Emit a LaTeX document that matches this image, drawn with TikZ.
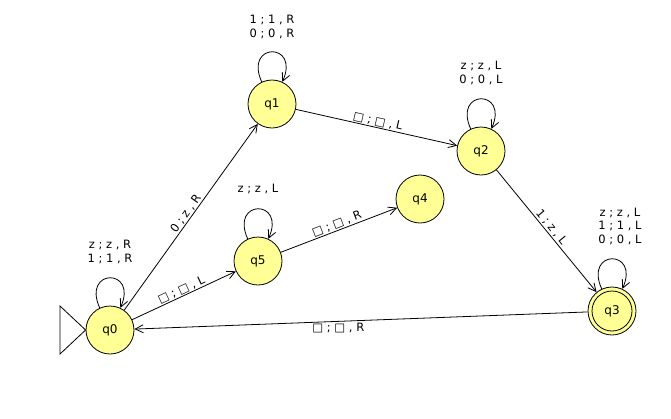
\documentclass[tikz,border=0pt]{standalone}
\usepackage{fontspec}
\setmainfont{DejaVu Sans}
\usetikzlibrary{arrows.meta}
\definecolor{st}{RGB}{255,255,150}
\begin{document}
\begin{tikzpicture}[x=1pt,y=-1pt,line width=0.8pt,
  stnode/.style={circle,draw,fill=st,minimum size=48pt,inner sep=0pt,font=\fontsize{12}{12}\selectfont},
  lbl/.style={font=\fontsize{11.5}{13.5}\selectfont,align=center,inner sep=1pt},
  tr/.style={-{Straight Barb[length=8pt,width=8pt]},draw=black}]
\useasboundingbox (0,0) rectangle (671,418);
\node[stnode] (q0) at (110,330) {q0};
\node[stnode] (q1) at (272,104) {q1};
\node[stnode] (q2) at (481,151) {q2};
\node[stnode] (q3) at (612,311) {};
\node[circle,draw,minimum size=40pt,inner sep=0pt,font=\fontsize{12}{12}\selectfont] (q3i) at (q3) {q3};
\node[stnode] (q4) at (420,199) {q4};
\node[stnode] (q5) at (258,261) {q5};
\coordinate (t1) at (60,306);
\coordinate (t2) at (60,354);
\draw (q0.west) -- (t1) -- (t2) -- cycle;
% loops
\foreach \n in {q0,q1,q2,q3,q5}
  \draw[tr] (\n.115) .. controls +(-18,-40) and +(18,-40) .. (\n.65);
\node[lbl] (l0) at (110,252) {z ; z , R\\1 ; 1 , R};
\node[lbl] (l1) at (272,27) {1 ; 1 , R\\0 ; 0 , R};
\node[lbl] (l2) at (481,73) {z ; z , L\\0 ; 0 , L};
\node[lbl] (l3) at (620,226) {z ; z , L\\1 ; 1 , L\\0 ; 0 , L};
\node[lbl] (l5) at (258,189) {z ; z , L};
% edges
\draw[tr] (q0) -- node[lbl,sloped,above] {0 ; z , R} (q1);
\draw[tr] (q0) -- node[lbl,sloped,above] {□ ; □ , L} (q5);
\draw[tr] (q5) -- node[lbl,sloped,above] {□ ; □ , R} (q4);
\draw[tr] (q1) -- node[lbl,sloped,above] {□ ; □ , L} (q2);
\draw[tr] (q2) -- node[lbl,sloped,above] {1 ; z , L} (q3);
\draw[tr] (q3) -- node[lbl,below,pos=0.55] {□ ; □ , R} (q0);
\end{tikzpicture}
\end{document}
